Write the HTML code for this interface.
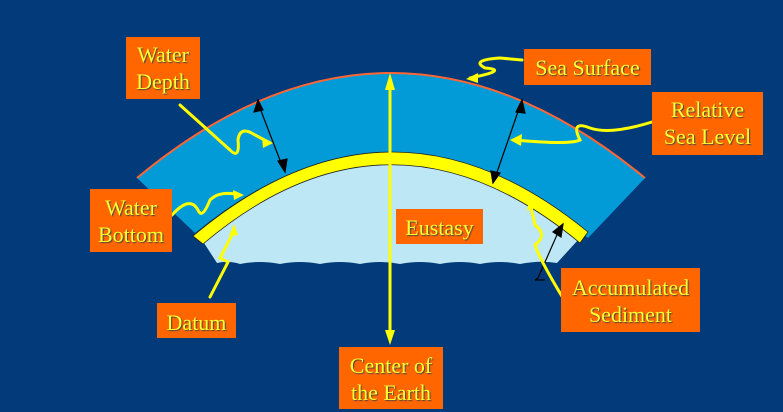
<!DOCTYPE html>
<html><head><meta charset="utf-8"><style>
html,body{margin:0;padding:0;background:#033a7a;}
#c{position:relative;width:783px;height:412px;overflow:hidden;background:#033a7a;font-family:"Liberation Serif",serif;}
.b{position:absolute;background:#ff6600;color:#ffff33;font-size:22px;line-height:27px;text-align:center;text-shadow:1px 1px 1px #444;white-space:nowrap;}
svg{position:absolute;left:0;top:0}
</style></head><body><div id="c">
<svg width="783" height="412" viewBox="0 0 783 412">
<path d="M137,178 Q390,-32 645,178 L588,238 Q390,72 195,233 Z" fill="#029bd7"/>
<path d="M137,178 Q390,-32 645,178" fill="none" stroke="#ff6633" stroke-width="2"/>
<path d="M204,243 Q390,88 578,240 L557,263 Q540,260 520,264 Q500,260 480,264 Q460,260 440,264 Q420,260 400,264 Q380,260 360,264 Q340,260 320,264 Q300,260 280,264 Q260,260 240,264 Q228,260 217,263 Z" fill="#bee7f5"/>
<path d="M193,236 Q390,70 588,232 L580,243 Q390,86 203,244 Z" fill="#ffff00" stroke="#222" stroke-width="0.8"/>
<g stroke="#000" stroke-width="1.2" fill="#000">
<line x1="258" y1="103" x2="283" y2="168"/><polygon points="258,100 254,112 263,110"/><polygon points="285,172 278,161 287,159"/>
<line x1="521" y1="103" x2="495" y2="178"/><polygon points="522,100 516,112 525,113"/><polygon points="493,183 491,171 500,173"/>
<line x1="560" y1="228" x2="538" y2="278"/><polygon points="563,224 553,232 561,237"/><line x1="538" y1="278" x2="535" y2="280"/><line x1="535" y1="280" x2="545" y2="280"/>
</g>
<g stroke="#ffff00" stroke-width="3" fill="none" stroke-linecap="round">
<line x1="390" y1="85" x2="390" y2="335"/>
<path d="M180,105 L230,150 Q240,160 238,140 Q240,125 255,135 L270,143"/>
<path d="M172,215 Q190,195 198,210 Q202,220 210,200 Q220,190 240,195"/>
<path d="M210,297 L228,262 L220,258 L232,235 L234,228"/>
<path d="M470,78 Q510,70 485,68 Q470,60 500,58 L522,60"/>
<path d="M652,122 Q610,135 590,128 Q570,120 580,140 Q570,145 515,140"/>
<path d="M563,298 Q540,260 535,245 Q548,235 535,225 L530,203"/>
</g>
<g fill="#ffff00">
<polygon points="390,73 385,90 395,90"/><polygon points="390,345 385,330 395,330"/>
<polygon points="273,143 262,137 263,148"/><polygon points="244,195 233,190 234,200"/>
<polygon points="234,224 229,236 238,235"/><polygon points="466,79 478,73 478,83"/>
<polygon points="510,140 522,134 521,146"/><polygon points="529,199 527,211 535,208"/>
</g>
</svg>
<div class="b" style="left:126px;top:37px;width:74px;height:62px;padding-top:4px;box-sizing:border-box">Water<br>Depth</div>
<div class="b" style="left:524px;top:49px;width:127px;height:36px;line-height:37px">Sea Surface</div>
<div class="b" style="left:652px;top:92px;width:111px;height:63px;padding-top:4px;box-sizing:border-box">Relative<br>Sea Level</div>
<div class="b" style="left:90px;top:189px;width:82px;height:63px;padding-top:5px;box-sizing:border-box">Water<br>Bottom</div>
<div class="b" style="left:396px;top:209px;width:87px;height:35px;line-height:37px">Eustasy</div>
<div class="b" style="left:157px;top:303px;width:79px;height:35px;line-height:39px">Datum</div>
<div class="b" style="left:561px;top:268px;width:139px;height:64px;padding-top:6px;box-sizing:border-box">Accumulated<br>Sediment</div>
<div class="b" style="left:339px;top:347px;width:104px;height:62px;padding-top:5px;box-sizing:border-box">Center of<br>the Earth</div>
</div></body></html>
